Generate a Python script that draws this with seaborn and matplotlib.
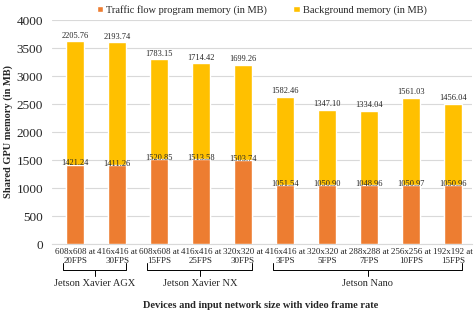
import matplotlib
matplotlib.use("Agg")
import matplotlib.pyplot as plt
import pandas as pd
import seaborn as sns

configs = ["608x608 at\n20FPS", "416x416 at\n30FPS",
           "608x608 at\n15FPS", "416x416 at\n25FPS", "320x320 at\n30FPS",
           "416x416 at\n3FPS", "320x320 at\n5FPS", "288x288 at\n7FPS",
           "256x256 at\n10FPS", "192x192 at\n15FPS"]
traffic = [1421.24, 1411.26, 1520.85, 1513.58, 1503.74,
           1051.54, 1050.90, 1048.96, 1050.97, 1050.96]
background = [2205.76, 2193.74, 1783.15, 1714.42, 1699.26,
              1582.46, 1347.10, 1334.04, 1561.03, 1456.04]
devices = ["Jetson Xavier AGX", "Jetson Xavier NX", "Jetson Nano"]
device_spans = [(0, 1), (2, 4), (5, 9)]

df = pd.DataFrame({"config": configs, "traffic": traffic, "background": background})
df["total"] = df["traffic"] + df["background"]

sns.set_style("white")
plt.rcParams["font.family"] = ["Liberation Serif", "DejaVu Serif"]

fig = plt.figure(figsize=(4.74, 3.13), dpi=100)
ax = fig.add_axes([0.11, 0.22, 0.885, 0.716])

orange = "#ED7D31"
yellow = "#FFC000"

sns.barplot(data=df, x="config", y="total", color=yellow, width=0.43,
            saturation=1, label="Background memory (in MB)", ax=ax, zorder=3)
sns.barplot(data=df, x="config", y="traffic", color=orange, width=0.43,
            saturation=1, label="Traffic flow program memory (in MB)", ax=ax, zorder=3)

# value labels
for i in range(len(df)):
    ax.text(i, df["total"][i] + 25, f"{background[i]:.2f}", ha="center", va="bottom",
            fontsize=6, zorder=4)
    ax.text(i, traffic[i] + 20, f"{traffic[i]:.2f}", ha="center", va="center",
            fontsize=6, zorder=4)

ax.set_ylim(0, 4000)
ax.set_xlim(-0.55, 9.45)
ax.set_yticks(range(0, 4001, 500))
ax.yaxis.grid(True, color="#d9d9d9", linewidth=0.8, zorder=0)
ax.tick_params(axis="y", labelsize=9.5, length=0, pad=6.5)
ax.tick_params(axis="x", labelsize=6.5, length=0, pad=3)
plt.setp(ax.get_xticklabels(), linespacing=1.15)
for s in ["top", "right", "left"]:
    ax.spines[s].set_visible(False)
ax.spines["bottom"].set_color("#d9d9d9")
ax.set_xlabel("")
ax.set_ylabel("")
fig.text(0.018, 0.58, "Shared GPU memory (in MB)", rotation=90, ha="center", va="center",
         fontsize=7.5, fontweight="bold")

# device group brackets
tr = ax.get_xaxis_transform()
for name, (a, b) in zip(devices, device_spans):
    x0, x1 = a - 0.28, b + 0.22
    xm = (x0 + x1) / 2
    ax.plot([x0, x0, x1, x1], [-0.085, -0.115, -0.115, -0.085], transform=tr,
            color="black", lw=0.7, clip_on=False)
    ax.plot([xm, xm], [-0.115, -0.14], transform=tr, color="black", lw=0.7, clip_on=False)
    ax.text(xm, -0.175, name, transform=tr, ha="center", va="center", fontsize=7.5)

fig.text(0.55, 0.025, "Devices and input network size with video frame rate",
         ha="center", va="center", fontsize=7.5, fontweight="bold")

handles, labels = ax.get_legend_handles_labels()
ax.legend(handles[::-1], labels[::-1], loc="lower center", bbox_to_anchor=(0.5, 1.0),
          ncol=2, frameon=False, fontsize=7.5, handlelength=0.6, handleheight=0.6,
          handletextpad=0.3, columnspacing=2.5, borderaxespad=0.1)

fig.savefig("out.png", dpi=100)
